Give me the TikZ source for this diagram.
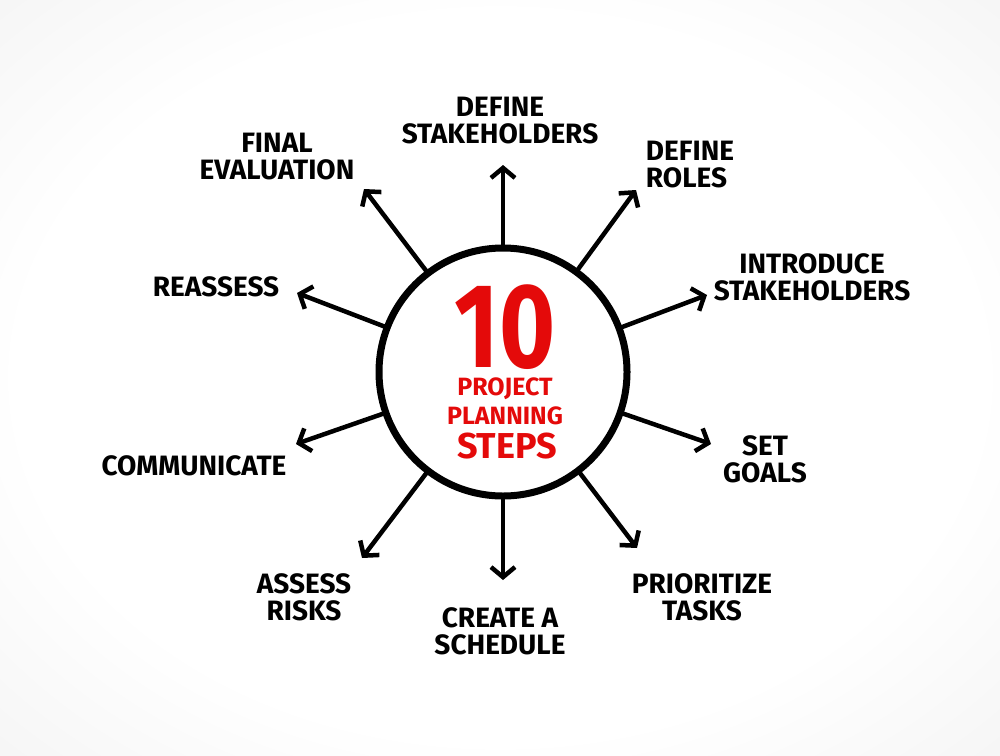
\documentclass[tikz,border=0pt]{standalone}
\usepackage{fontspec}
\setmainfont{Fira Sans}
\usepackage{graphicx}
\usetikzlibrary{arrows.meta}
\pgfdeclareradialshading{bgshade}{\pgfpoint{0bp}{0bp}}{color(0bp)=(white); color(24bp)=(white); color(71bp)=(black!15)}
\definecolor{hred}{RGB}{228,10,10}
\begin{document}
\begin{tikzpicture}[x=1pt,y=-1pt,
  lab/.style={font=\fontsize{28}{27}\selectfont\bfseries, align=center, inner sep=0pt, text=black},
  redtxt/.style={text=hred, inner sep=0pt},
  arr/.style={line width=4.5pt, line cap=round, -{Straight Barb[length=10pt,width=24pt]}},
  hub/.style={circle, draw=black, line width=7pt, fill=white, minimum size=248pt, inner sep=0pt}]
\useasboundingbox (0,0) rectangle (1000,755);
\shade[shading=bgshade] (0,0) rectangle (1000,755);

\node[hub] (c) at (503,372) {};
\node[redtxt, text depth=0pt, anchor=base, font=\fontsize{120}{120}\selectfont\bfseries] (ten) at (505,367) {\scalebox{0.8}[1]{10}};
\node[redtxt, font=\fontsize{25}{26}\selectfont\bfseries] (pr) at (505,389) {PROJECT};
\node[redtxt, font=\fontsize{25}{26}\selectfont\bfseries] (pl) at (505,416) {PLANNING};
\node[redtxt, font=\fontsize{36}{37}\selectfont\bfseries] (st) at (507,446) {STEPS};

% arrow tips
\coordinate (t1) at (503,165);
\coordinate (t2) at (636,190);
\coordinate (t3) at (707,295);
\coordinate (t4) at (711,444);
\coordinate (t5) at (637,548);
\coordinate (t6) at (503,580);
\coordinate (t7) at (362,558);
\coordinate (t8) at (296,444);
\coordinate (t9) at (297,293);
\coordinate (t10) at (364,189);

\foreach \i in {1,...,10} {\draw[arr] (c) -- (t\i);}

% labels
\node[lab] (l1) at (500,121) {DEFINE\\STAKEHOLDERS};
\node[lab, align=left] (l2) at (690,165) {DEFINE\\ROLES};
\node[lab] (l3) at (812,277) {INTRODUCE\\STAKEHOLDERS};
\node[lab] (l4) at (765,459) {SET\\GOALS};
\node[lab] (l5) at (702,597) {PRIORITIZE\\TASKS};
\node[lab] (l6) at (500,631) {CREATE A\\SCHEDULE};
\node[lab] (l7) at (304,597) {ASSESS\\RISKS};
\node[lab] (l8) at (194,466) {COMMUNICATE};
\node[lab] (l9) at (216,287) {REASSESS};
\node[lab] (l10) at (277,157) {FINAL\\EVALUATION};
\end{tikzpicture}
\end{document}
